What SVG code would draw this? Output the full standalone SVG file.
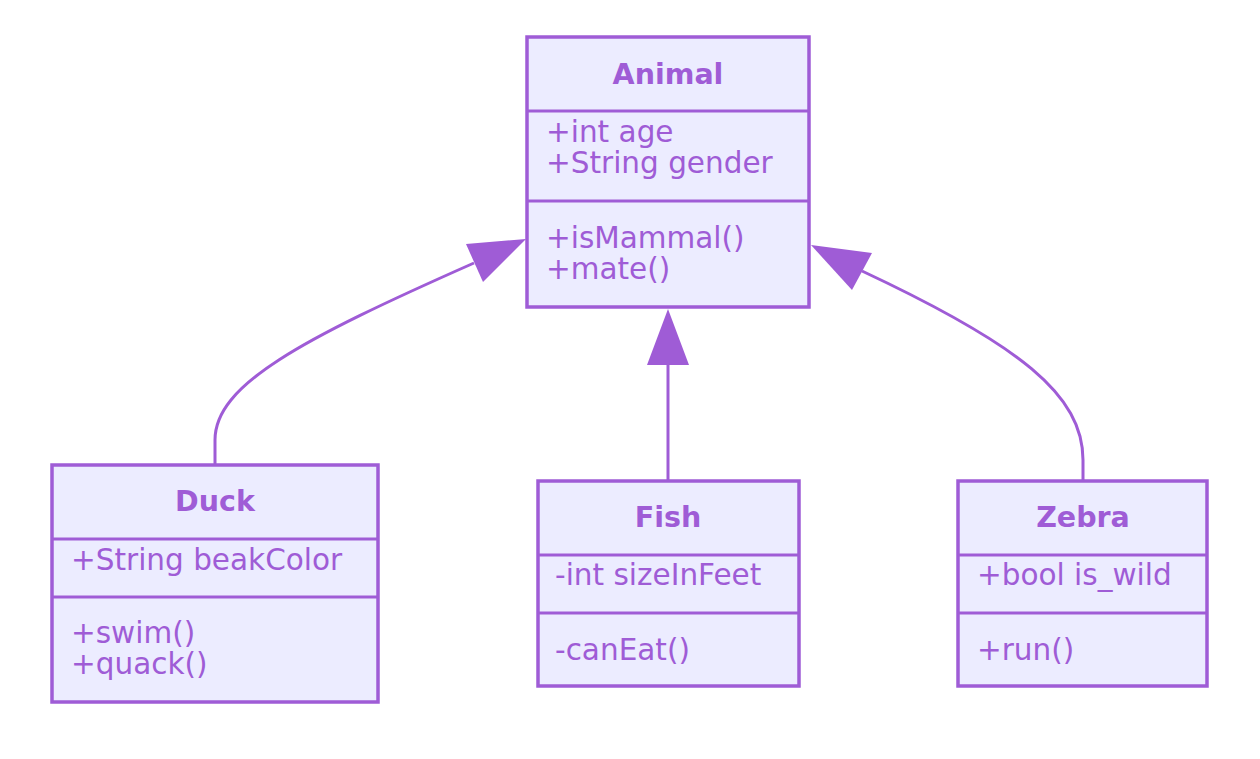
<svg xmlns="http://www.w3.org/2000/svg" width="1260" height="759" viewBox="0 0 1260 759">
<style>
.box{fill:#ECECFF;stroke:#9F5CD6;stroke-width:3.5}
.div{stroke:#9F5CD6;stroke-width:3}
.t{font-family:"DejaVu Sans","Noto Sans",sans-serif;font-size:29.5px;fill:#9F5CD6}
.h{font-weight:bold;text-anchor:middle;font-size:28.5px}
.edge{fill:none;stroke:#9F5CD6;stroke-width:3}
.head{fill:#9F5CD6}
</style>
<rect width="1260" height="759" fill="#ffffff"/>
<g id="connectors">
<path class="edge" d="M215,465 L215,440 C215,385 300,340 474,263"/>
<polygon class="head" points="526,239 466,244 483,282"/>
<path class="edge" d="M668,481 L668,365"/>
<polygon class="head" points="668,309 647,365 689,365"/>
<path class="edge" d="M1083,481 L1083,460 C1083,395 1020,345 862,271"/>
<polygon class="head" points="811,245 872,253 852,290"/>
</g>
<g id="Animal">
<rect class="box" x="527" y="37" width="282" height="270"/>
<line class="div" x1="527" y1="111" x2="809" y2="111"/>
<line class="div" x1="527" y1="201" x2="809" y2="201"/>
<text class="t h" x="668" y="84">Animal</text>
<text class="t" x="546" y="142">+int age</text>
<text class="t" x="546" y="173">+String gender</text>
<text class="t" x="546" y="248">+isMammal()</text>
<text class="t" x="546" y="279">+mate()</text>
</g>
<g id="Duck">
<rect class="box" x="52" y="465" width="326" height="237"/>
<line class="div" x1="52" y1="539" x2="378" y2="539"/>
<line class="div" x1="52" y1="597" x2="378" y2="597"/>
<text class="t h" x="215" y="511">Duck</text>
<text class="t" x="71" y="570">+String beakColor</text>
<text class="t" x="71" y="643">+swim()</text>
<text class="t" x="71" y="674">+quack()</text>
</g>
<g id="Fish">
<rect class="box" x="538" y="481" width="261" height="205"/>
<line class="div" x1="538" y1="555" x2="799" y2="555"/>
<line class="div" x1="538" y1="613" x2="799" y2="613"/>
<text class="t h" x="668" y="527">Fish</text>
<text class="t" x="555" y="585">-int sizeInFeet</text>
<text class="t" x="555" y="660">-canEat()</text>
</g>
<g id="Zebra">
<rect class="box" x="958" y="481" width="249" height="205"/>
<line class="div" x1="958" y1="555" x2="1207" y2="555"/>
<line class="div" x1="958" y1="613" x2="1207" y2="613"/>
<text class="t h" x="1083" y="527">Zebra</text>
<text class="t" x="977" y="585">+bool is_wild</text>
<text class="t" x="977" y="660">+run()</text>
</g>
</svg>
